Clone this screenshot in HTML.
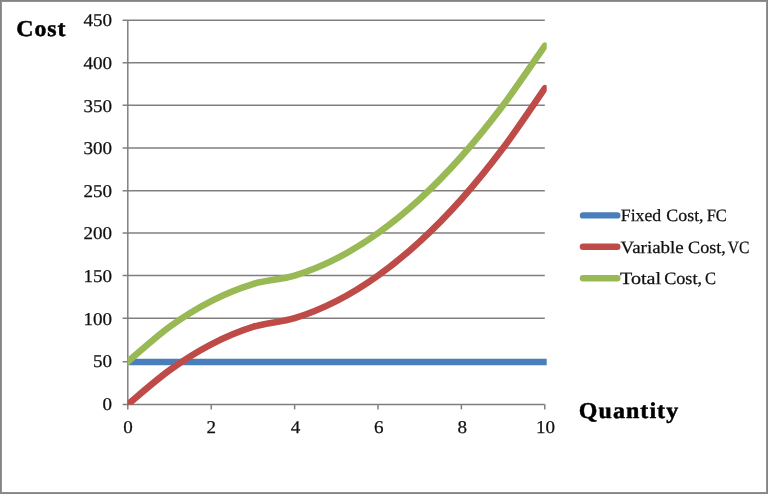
<!DOCTYPE html>
<html><head><meta charset="utf-8"><title>Cost curves</title>
<style>
html,body{margin:0;padding:0;background:#fff;}
body{width:768px;height:494px;overflow:hidden;}
svg{display:block;}
text{font-family:"Liberation Serif",serif;fill:#111;text-rendering:geometricPrecision;}
.b{font-weight:bold;fill:#000;}
</style></head><body>
<svg width="768" height="494" viewBox="0 0 768 494">
<rect x="0" y="0" width="768" height="494" fill="#fff"/>
<rect x="0.5" y="0.5" width="767" height="493" fill="none" stroke="#848484" stroke-width="1"/>
<rect x="1.5" y="1.5" width="765" height="491" fill="none" stroke="#919191" stroke-width="1"/>

<g stroke="#817e7e" stroke-width="1.5" fill="none">
<line x1="122.6" y1="404.40" x2="544.80" y2="404.40"/>
<line x1="122.6" y1="361.75" x2="544.80" y2="361.75"/>
<line x1="122.6" y1="318.20" x2="544.80" y2="318.20"/>
<line x1="122.6" y1="275.60" x2="544.80" y2="275.60"/>
<line x1="122.6" y1="233.10" x2="544.80" y2="233.10"/>
<line x1="122.6" y1="190.70" x2="544.80" y2="190.70"/>
<line x1="122.6" y1="148.00" x2="544.80" y2="148.00"/>
<line x1="122.6" y1="105.30" x2="544.80" y2="105.30"/>
<line x1="122.6" y1="62.75" x2="544.80" y2="62.75"/>
<line x1="122.6" y1="20.30" x2="544.80" y2="20.30"/>
<line x1="127.80" y1="20.30" x2="127.80" y2="409.40"/>
<line x1="211.20" y1="404.40" x2="211.20" y2="409.40"/>
<line x1="294.60" y1="404.40" x2="294.60" y2="409.40"/>
<line x1="378.00" y1="404.40" x2="378.00" y2="409.40"/>
<line x1="461.40" y1="404.40" x2="461.40" y2="409.40"/>
<line x1="544.80" y1="404.40" x2="544.80" y2="409.40"/>
</g>
<clipPath id="pc"><rect x="127.40" y="10" width="419.30" height="394.70"/></clipPath>
<g clip-path="url(#pc)" fill="none" stroke-width="6.6" stroke-linecap="round" stroke-linejoin="round">
<path d="M124.80,362.00 L547.80,362.00" stroke="#4a7ebb" stroke-linecap="butt"/>
<path d="M127.80,404.40 C134.75,398.71 155.60,380.29 169.50,370.28 C183.40,360.27 197.30,351.56 211.20,344.33 C225.10,337.10 239.00,331.26 252.90,326.91 C266.80,322.55 280.70,322.49 294.60,318.20 C308.50,313.91 322.40,308.26 336.30,301.16 C350.20,294.06 364.10,285.53 378.00,275.60 C391.90,265.67 405.80,254.34 419.70,241.60 C433.60,228.86 447.50,214.78 461.40,199.18 C475.30,183.58 489.20,166.48 503.10,148.00 C517.00,129.52 537.85,98.23 544.80,88.28" stroke="#be4b48"/>
<path d="M127.80,361.75 C134.75,355.94 155.60,337.01 169.50,326.91 C183.40,316.81 197.30,308.29 211.20,301.16 C225.10,294.03 239.00,288.38 252.90,284.12 C266.80,279.86 280.70,279.85 294.60,275.60 C308.50,271.35 322.40,265.68 336.30,258.60 C350.20,251.52 364.10,243.00 378.00,233.10 C391.90,223.20 405.80,211.94 419.70,199.18 C433.60,186.42 447.50,172.19 461.40,156.54 C475.30,140.89 489.20,123.76 503.10,105.30 C517.00,86.84 537.85,55.69 544.80,45.77" stroke="#98b954"/>
</g>
<g font-size="18px" text-anchor="end" stroke="#111" stroke-width="0.25">
<text transform="translate(112.0,410.00) scale(1.060,1)">0</text>
<text transform="translate(112.0,367.00) scale(1.060,1)">50</text>
<text transform="translate(112.0,325.00) scale(1.060,1)">100</text>
<text transform="translate(112.0,282.00) scale(1.060,1)">150</text>
<text transform="translate(112.0,239.00) scale(1.060,1)">200</text>
<text transform="translate(112.0,197.00) scale(1.060,1)">250</text>
<text transform="translate(112.0,154.00) scale(1.060,1)">300</text>
<text transform="translate(112.0,112.00) scale(1.060,1)">350</text>
<text transform="translate(112.0,69.00) scale(1.060,1)">400</text>
<text transform="translate(112.0,26.00) scale(1.060,1)">450</text>
</g>
<g font-size="18px" text-anchor="middle" stroke="#111" stroke-width="0.25">
<text transform="translate(128.00,432.8) scale(1.060,1)">0</text>
<text transform="translate(211.20,432.8) scale(1.060,1)">2</text>
<text transform="translate(295.40,432.8) scale(1.060,1)">4</text>
<text transform="translate(378.80,432.8) scale(1.060,1)">6</text>
<text transform="translate(462.20,432.8) scale(1.060,1)">8</text>
<text transform="translate(545.60,432.8) scale(1.060,1)">10</text>
</g>
<text class="b" transform="translate(16.35,35.80) scale(1.044,1)" font-size="22.8px" letter-spacing="0.9px" stroke="#000" stroke-width="0.5">Cost</text>
<text class="b" transform="translate(578.87,417.70) scale(1.060,1)" font-size="22.6px" letter-spacing="1.0px" stroke="#000" stroke-width="0.5">Quantity</text>
<text y="221.40" font-size="17.3px" stroke="#111" stroke-width="0.25"><tspan x="620.74" textLength="40.54" lengthAdjust="spacingAndGlyphs">Fixed</tspan> <tspan x="666.31" textLength="37.28" lengthAdjust="spacingAndGlyphs">Cost,</tspan> <tspan x="706.71" textLength="20.16" lengthAdjust="spacingAndGlyphs">FC</tspan></text>
<text y="252.50" font-size="17.3px" stroke="#111" stroke-width="0.25"><tspan x="620.57" textLength="63.16" lengthAdjust="spacingAndGlyphs">Variable</tspan> <tspan x="688.10" textLength="37.81" lengthAdjust="spacingAndGlyphs">Cost,</tspan> <tspan x="727.77" textLength="21.72" lengthAdjust="spacingAndGlyphs">VC</tspan></text>
<text y="283.50" font-size="17.3px" stroke="#111" stroke-width="0.25"><tspan x="620.12" textLength="41.00" lengthAdjust="spacingAndGlyphs">Total</tspan> <tspan x="664.20" textLength="37.81" lengthAdjust="spacingAndGlyphs">Cost,</tspan> <tspan x="704.98" textLength="11.01" lengthAdjust="spacingAndGlyphs">C</tspan></text>
<g fill="none" stroke-width="6.4" stroke-linecap="round">
<line x1="583" y1="215.4" x2="617.3" y2="215.4" stroke="#4a7ebb"/>
<line x1="583" y1="246.8" x2="617.3" y2="246.8" stroke="#be4b48"/>
<line x1="583" y1="278.2" x2="617.3" y2="278.2" stroke="#98b954"/>
</g>
</svg></body></html>
